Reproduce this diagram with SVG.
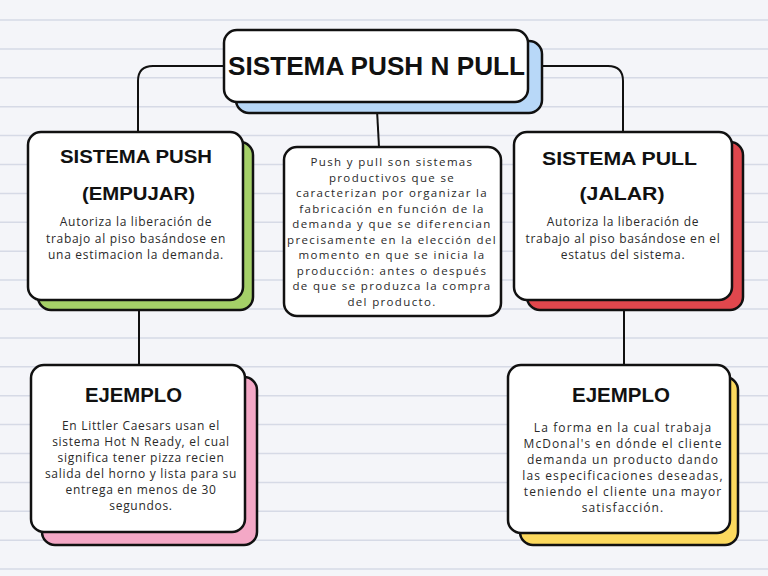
<svg xmlns="http://www.w3.org/2000/svg" width="768" height="576" viewBox="0 0 768 576">
<defs>
<style>
.bg{fill:#f4f5f9}
.rule{stroke:#d6dae6;stroke-width:1.5}
.card{fill:#ffffff;stroke:#111;stroke-width:2.5}
.shadow{stroke:#111;stroke-width:2.5}
.conn{fill:none;stroke:#111;stroke-width:2}
.head{font-family:"Liberation Sans",Arial,sans-serif;font-weight:bold;fill:#111;text-anchor:middle}
.body{font-family:"Open Sans","Noto Sans",sans-serif;fill:#2a2a2a;text-anchor:middle;font-size:12px;letter-spacing:0.7px}
.small{font-size:11.5px;letter-spacing:1.35px}
.br{letter-spacing:1.1px}
</style>
</defs>
<rect class="bg" x="0" y="0" width="768" height="576"/>
<g id="rules">
<line class="rule" x1="0" y1="20" x2="768" y2="20"/>
<line class="rule" x1="0" y1="48.9" x2="768" y2="48.9"/>
<line class="rule" x1="0" y1="77.8" x2="768" y2="77.8"/>
<line class="rule" x1="0" y1="106.7" x2="768" y2="106.7"/>
<line class="rule" x1="0" y1="135.6" x2="768" y2="135.6"/>
<line class="rule" x1="0" y1="164.5" x2="768" y2="164.5"/>
<line class="rule" x1="0" y1="193.4" x2="768" y2="193.4"/>
<line class="rule" x1="0" y1="222.3" x2="768" y2="222.3"/>
<line class="rule" x1="0" y1="251.2" x2="768" y2="251.2"/>
<line class="rule" x1="0" y1="280.1" x2="768" y2="280.1"/>
<line class="rule" x1="0" y1="309" x2="768" y2="309"/>
<line class="rule" x1="0" y1="337.9" x2="768" y2="337.9"/>
<line class="rule" x1="0" y1="366.8" x2="768" y2="366.8"/>
<line class="rule" x1="0" y1="395.7" x2="768" y2="395.7"/>
<line class="rule" x1="0" y1="424.6" x2="768" y2="424.6"/>
<line class="rule" x1="0" y1="453.5" x2="768" y2="453.5"/>
<line class="rule" x1="0" y1="482.4" x2="768" y2="482.4"/>
<line class="rule" x1="0" y1="511.3" x2="768" y2="511.3"/>
<line class="rule" x1="0" y1="540.2" x2="768" y2="540.2"/>
<line class="rule" x1="0" y1="569.1" x2="768" y2="569.1"/>
</g>
<g id="connectors">
<path class="conn" d="M225,66 H153 Q138,66 138,81 V132"/>
<path class="conn" d="M540,66 H608 Q623,66 623,81 V132"/>
<path class="conn" d="M377,110 L379,147"/>
<path class="conn" d="M139,308 V365"/>
<path class="conn" d="M624,308 V365"/>
</g>
<g id="title">
<rect class="shadow" x="236" y="41" width="306" height="72" rx="13" fill="#b8d8f8"/>
<rect class="card" x="224" y="30" width="304" height="72" rx="13"/>
<text class="head" x="376.5" y="75" font-size="26" textLength="297" lengthAdjust="spacingAndGlyphs">SISTEMA PUSH N PULL</text>
</g>
<g id="push">
<rect class="shadow" x="38" y="142" width="215" height="168" rx="13" fill="#a5d068"/>
<rect class="card" x="28" y="132" width="215" height="168" rx="13"/>
<text class="head" x="136" y="163" font-size="19" textLength="152" lengthAdjust="spacingAndGlyphs">SISTEMA PUSH</text>
<text class="head" x="138.5" y="200" font-size="19" textLength="113" lengthAdjust="spacingAndGlyphs">(EMPUJAR)</text>
<text class="body" x="136" y="226">Autoriza la liberación de</text>
<text class="body" x="136" y="243">trabajo al piso basándose en</text>
<text class="body" x="136" y="259">una estimacion la demanda.</text>
</g>
<g id="definition">
<rect class="card" x="284" y="147" width="217" height="169" rx="13"/>
<text class="body small" x="392" y="166">Push y pull son sistemas</text>
<text class="body small" x="392" y="181.5">productivos que se</text>
<text class="body small" x="392" y="197">caracterizan por organizar la</text>
<text class="body small" x="392" y="212.5">fabricación en función de la</text>
<text class="body small" x="392" y="228">demanda y que se diferencian</text>
<text class="body small" x="392" y="243.5">precisamente en la elección del</text>
<text class="body small" x="392" y="259">momento en que se inicia la</text>
<text class="body small" x="392" y="274.5">producción: antes o después</text>
<text class="body small" x="392" y="290">de que se produzca la compra</text>
<text class="body small" x="392" y="305.5">del producto.</text>
</g>
<g id="pull">
<rect class="shadow" x="527" y="142" width="216" height="168" rx="13" fill="#e0474d"/>
<rect class="card" x="514" y="132" width="218" height="168" rx="13"/>
<text class="head" x="619.5" y="165" font-size="19" textLength="155" lengthAdjust="spacingAndGlyphs">SISTEMA PULL</text>
<text class="head" x="622" y="200" font-size="19" textLength="85" lengthAdjust="spacingAndGlyphs">(JALAR)</text>
<text class="body" x="623" y="226">Autoriza la liberación de</text>
<text class="body" x="623" y="243">trabajo al piso basándose en el</text>
<text class="body" x="623" y="259">estatus del sistema.</text>
</g>
<g id="ejemplo-push">
<rect class="shadow" x="42" y="377" width="215" height="168" rx="13" fill="#f4a8c6"/>
<rect class="card" x="31" y="365" width="214" height="167" rx="13"/>
<text class="head" x="133.5" y="402" font-size="21" textLength="97" lengthAdjust="spacingAndGlyphs">EJEMPLO</text>
<text class="body" x="141" y="430">En Littler Caesars usan el</text>
<text class="body" x="141" y="446">sistema Hot N Ready, el cual</text>
<text class="body" x="141" y="462">significa tener pizza recien</text>
<text class="body" x="141" y="478">salida del horno y lista para su</text>
<text class="body" x="141" y="494">entrega en menos de 30</text>
<text class="body" x="141" y="510">segundos.</text>
</g>
<g id="ejemplo-pull">
<rect class="shadow" x="520" y="377" width="218" height="168" rx="13" fill="#fcd95e"/>
<rect class="card" x="508" y="365" width="222" height="168" rx="13"/>
<text class="head" x="621" y="402" font-size="21" textLength="98" lengthAdjust="spacingAndGlyphs">EJEMPLO</text>
<text class="body br" x="623" y="432">La forma en la cual trabaja</text>
<text class="body br" x="623" y="448">McDonal's en dónde el cliente</text>
<text class="body br" x="623" y="464">demanda un producto dando</text>
<text class="body br" x="623" y="480">las especificaciones deseadas,</text>
<text class="body br" x="623" y="496">teniendo el cliente una mayor</text>
<text class="body br" x="623" y="512">satisfacción.</text>
</g>
</svg>
